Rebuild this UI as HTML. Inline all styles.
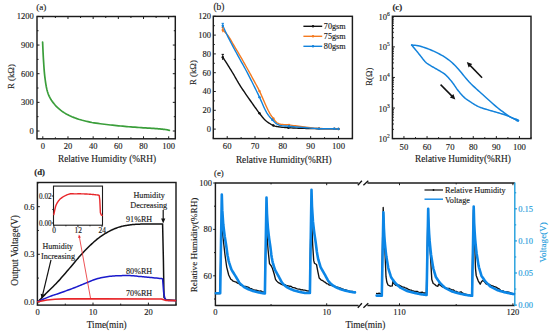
<!DOCTYPE html>
<html><head><meta charset="utf-8"><style>
html,body{margin:0;padding:0;background:#fff;overflow:hidden;width:550px;height:331px;}
svg{display:block;}
text{font-family:"Liberation Serif",serif;paint-order:stroke;stroke-width:0.14px;stroke-linejoin:round;}
</style></head><body>
<svg width="550" height="331" viewBox="0 0 550 331">
<rect width="550" height="331" fill="#fff"/>
<rect x="37.00" y="16.50" width="138.30" height="122.30" fill="none" stroke="#1c1c1c" stroke-width="1.45"/>
<line x1="42.80" y1="138.80" x2="42.80" y2="136.30" stroke="#1c1c1c" stroke-width="1.0" />
<line x1="42.80" y1="16.50" x2="42.80" y2="19.00" stroke="#1c1c1c" stroke-width="1.0" />
<line x1="55.39" y1="138.80" x2="55.39" y2="137.30" stroke="#1c1c1c" stroke-width="1.0" />
<line x1="55.39" y1="16.50" x2="55.39" y2="18.00" stroke="#1c1c1c" stroke-width="1.0" />
<line x1="67.98" y1="138.80" x2="67.98" y2="136.30" stroke="#1c1c1c" stroke-width="1.0" />
<line x1="67.98" y1="16.50" x2="67.98" y2="19.00" stroke="#1c1c1c" stroke-width="1.0" />
<line x1="80.57" y1="138.80" x2="80.57" y2="137.30" stroke="#1c1c1c" stroke-width="1.0" />
<line x1="80.57" y1="16.50" x2="80.57" y2="18.00" stroke="#1c1c1c" stroke-width="1.0" />
<line x1="93.16" y1="138.80" x2="93.16" y2="136.30" stroke="#1c1c1c" stroke-width="1.0" />
<line x1="93.16" y1="16.50" x2="93.16" y2="19.00" stroke="#1c1c1c" stroke-width="1.0" />
<line x1="105.75" y1="138.80" x2="105.75" y2="137.30" stroke="#1c1c1c" stroke-width="1.0" />
<line x1="105.75" y1="16.50" x2="105.75" y2="18.00" stroke="#1c1c1c" stroke-width="1.0" />
<line x1="118.34" y1="138.80" x2="118.34" y2="136.30" stroke="#1c1c1c" stroke-width="1.0" />
<line x1="118.34" y1="16.50" x2="118.34" y2="19.00" stroke="#1c1c1c" stroke-width="1.0" />
<line x1="130.93" y1="138.80" x2="130.93" y2="137.30" stroke="#1c1c1c" stroke-width="1.0" />
<line x1="130.93" y1="16.50" x2="130.93" y2="18.00" stroke="#1c1c1c" stroke-width="1.0" />
<line x1="143.52" y1="138.80" x2="143.52" y2="136.30" stroke="#1c1c1c" stroke-width="1.0" />
<line x1="143.52" y1="16.50" x2="143.52" y2="19.00" stroke="#1c1c1c" stroke-width="1.0" />
<line x1="156.11" y1="138.80" x2="156.11" y2="137.30" stroke="#1c1c1c" stroke-width="1.0" />
<line x1="156.11" y1="16.50" x2="156.11" y2="18.00" stroke="#1c1c1c" stroke-width="1.0" />
<line x1="168.70" y1="138.80" x2="168.70" y2="136.30" stroke="#1c1c1c" stroke-width="1.0" />
<line x1="168.70" y1="16.50" x2="168.70" y2="19.00" stroke="#1c1c1c" stroke-width="1.0" />
<line x1="37.00" y1="131.00" x2="39.50" y2="131.00" stroke="#1c1c1c" stroke-width="1.0" />
<line x1="175.30" y1="131.00" x2="172.80" y2="131.00" stroke="#1c1c1c" stroke-width="1.0" />
<line x1="37.00" y1="116.67" x2="38.50" y2="116.67" stroke="#1c1c1c" stroke-width="1.0" />
<line x1="175.30" y1="116.67" x2="173.80" y2="116.67" stroke="#1c1c1c" stroke-width="1.0" />
<line x1="37.00" y1="102.35" x2="39.50" y2="102.35" stroke="#1c1c1c" stroke-width="1.0" />
<line x1="175.30" y1="102.35" x2="172.80" y2="102.35" stroke="#1c1c1c" stroke-width="1.0" />
<line x1="37.00" y1="88.03" x2="38.50" y2="88.03" stroke="#1c1c1c" stroke-width="1.0" />
<line x1="175.30" y1="88.03" x2="173.80" y2="88.03" stroke="#1c1c1c" stroke-width="1.0" />
<line x1="37.00" y1="73.70" x2="39.50" y2="73.70" stroke="#1c1c1c" stroke-width="1.0" />
<line x1="175.30" y1="73.70" x2="172.80" y2="73.70" stroke="#1c1c1c" stroke-width="1.0" />
<line x1="37.00" y1="59.38" x2="38.50" y2="59.38" stroke="#1c1c1c" stroke-width="1.0" />
<line x1="175.30" y1="59.38" x2="173.80" y2="59.38" stroke="#1c1c1c" stroke-width="1.0" />
<line x1="37.00" y1="45.05" x2="39.50" y2="45.05" stroke="#1c1c1c" stroke-width="1.0" />
<line x1="175.30" y1="45.05" x2="172.80" y2="45.05" stroke="#1c1c1c" stroke-width="1.0" />
<line x1="37.00" y1="30.72" x2="38.50" y2="30.72" stroke="#1c1c1c" stroke-width="1.0" />
<line x1="175.30" y1="30.72" x2="173.80" y2="30.72" stroke="#1c1c1c" stroke-width="1.0" />
<line x1="37.00" y1="16.40" x2="39.50" y2="16.40" stroke="#1c1c1c" stroke-width="1.0" />
<line x1="175.30" y1="16.40" x2="172.80" y2="16.40" stroke="#1c1c1c" stroke-width="1.0" />
<text x="42.80" y="149.20" font-size="8.5" text-anchor="middle" fill="#222" stroke="#222" >0</text>
<text x="67.98" y="149.20" font-size="8.5" text-anchor="middle" fill="#222" stroke="#222" >20</text>
<text x="93.16" y="149.20" font-size="8.5" text-anchor="middle" fill="#222" stroke="#222" >40</text>
<text x="118.34" y="149.20" font-size="8.5" text-anchor="middle" fill="#222" stroke="#222" >60</text>
<text x="143.52" y="149.20" font-size="8.5" text-anchor="middle" fill="#222" stroke="#222" >80</text>
<text x="168.70" y="149.20" font-size="8.5" text-anchor="middle" fill="#222" stroke="#222" >100</text>
<text x="33.80" y="133.90" font-size="8.5" text-anchor="end" fill="#222" stroke="#222" >0</text>
<text x="33.80" y="105.25" font-size="8.5" text-anchor="end" fill="#222" stroke="#222" >300</text>
<text x="33.80" y="76.60" font-size="8.5" text-anchor="end" fill="#222" stroke="#222" >600</text>
<text x="33.80" y="47.95" font-size="8.5" text-anchor="end" fill="#222" stroke="#222" >900</text>
<text x="33.80" y="19.30" font-size="8.5" text-anchor="end" fill="#222" stroke="#222" >1200</text>
<text x="107.00" y="162.30" font-size="9.3" text-anchor="middle" fill="#222" stroke="#222" >Relative Humidity (%RH)</text>
<text x="13.90" y="76.60" font-size="8.8" text-anchor="middle" fill="#222" stroke="#222" transform="rotate(-90 13.9 76.6)">R (kΩ)</text>
<text x="36.20" y="10.30" font-size="9.2" text-anchor="start" fill="#222" stroke="#222" >(a)</text>
<path d="M42.60,42.00 L42.67,43.40 L42.75,45.25 L42.85,47.46 L42.96,49.92 L43.08,52.52 L43.21,55.15 L43.35,57.71 L43.50,60.10 L43.65,62.38 L43.80,64.70 L43.95,67.02 L44.12,69.34 L44.30,71.63 L44.51,73.89 L44.74,76.08 L45.00,78.20 L45.28,80.26 L45.57,82.29 L45.88,84.28 L46.21,86.23 L46.58,88.11 L47.00,89.92 L47.47,91.65 L48.00,93.30 L48.59,94.85 L49.24,96.30 L49.93,97.68 L50.67,98.98 L51.46,100.23 L52.30,101.44 L53.18,102.63 L54.10,103.80 L55.07,104.95 L56.07,106.06 L57.13,107.14 L58.23,108.18 L59.37,109.19 L60.56,110.16 L61.81,111.10 L63.10,112.00 L64.45,112.87 L65.84,113.70 L67.29,114.49 L68.79,115.26 L70.33,115.99 L71.91,116.69 L73.54,117.36 L75.20,118.00 L76.91,118.62 L78.67,119.20 L80.48,119.75 L82.33,120.28 L84.21,120.77 L86.12,121.24 L88.05,121.68 L90.00,122.10 L91.97,122.49 L93.99,122.84 L96.04,123.16 L98.11,123.45 L100.19,123.73 L102.27,123.99 L104.34,124.25 L106.40,124.50 L108.44,124.75 L110.48,124.98 L112.52,125.21 L114.55,125.42 L116.58,125.62 L118.62,125.82 L120.66,126.01 L122.70,126.20 L124.75,126.38 L126.79,126.56 L128.84,126.73 L130.89,126.89 L132.95,127.04 L135.00,127.20 L137.05,127.35 L139.10,127.50 L141.20,127.65 L143.35,127.79 L145.54,127.94 L147.71,128.07 L149.83,128.21 L151.86,128.34 L153.77,128.47 L155.50,128.60 L157.08,128.72 L158.55,128.84 L159.91,128.95 L161.17,129.06 L162.33,129.17 L163.41,129.28 L164.39,129.39 L165.30,129.50 L166.11,129.62 L166.82,129.75 L167.44,129.88 L167.96,130.01 L168.41,130.13 L168.80,130.24 L169.12,130.33 L169.40,130.40" fill="none" stroke="#3a9e3a" stroke-width="1.7" stroke-linejoin="round" stroke-linecap="round" />
<rect x="213.30" y="16.30" width="139.10" height="122.30" fill="none" stroke="#1c1c1c" stroke-width="1.45"/>
<line x1="213.30" y1="138.60" x2="213.30" y2="137.10" stroke="#1c1c1c" stroke-width="1.0" />
<line x1="227.21" y1="138.60" x2="227.21" y2="136.10" stroke="#1c1c1c" stroke-width="1.0" />
<line x1="241.12" y1="138.60" x2="241.12" y2="137.10" stroke="#1c1c1c" stroke-width="1.0" />
<line x1="255.03" y1="138.60" x2="255.03" y2="136.10" stroke="#1c1c1c" stroke-width="1.0" />
<line x1="268.94" y1="138.60" x2="268.94" y2="137.10" stroke="#1c1c1c" stroke-width="1.0" />
<line x1="282.85" y1="138.60" x2="282.85" y2="136.10" stroke="#1c1c1c" stroke-width="1.0" />
<line x1="296.76" y1="138.60" x2="296.76" y2="137.10" stroke="#1c1c1c" stroke-width="1.0" />
<line x1="310.67" y1="138.60" x2="310.67" y2="136.10" stroke="#1c1c1c" stroke-width="1.0" />
<line x1="324.58" y1="138.60" x2="324.58" y2="137.10" stroke="#1c1c1c" stroke-width="1.0" />
<line x1="338.49" y1="138.60" x2="338.49" y2="136.10" stroke="#1c1c1c" stroke-width="1.0" />
<line x1="352.40" y1="138.60" x2="352.40" y2="137.10" stroke="#1c1c1c" stroke-width="1.0" />
<line x1="213.30" y1="138.50" x2="214.80" y2="138.50" stroke="#1c1c1c" stroke-width="1.0" />
<line x1="213.30" y1="129.10" x2="215.80" y2="129.10" stroke="#1c1c1c" stroke-width="1.0" />
<line x1="213.30" y1="119.70" x2="214.80" y2="119.70" stroke="#1c1c1c" stroke-width="1.0" />
<line x1="213.30" y1="110.30" x2="215.80" y2="110.30" stroke="#1c1c1c" stroke-width="1.0" />
<line x1="213.30" y1="100.90" x2="214.80" y2="100.90" stroke="#1c1c1c" stroke-width="1.0" />
<line x1="213.30" y1="91.50" x2="215.80" y2="91.50" stroke="#1c1c1c" stroke-width="1.0" />
<line x1="213.30" y1="82.10" x2="214.80" y2="82.10" stroke="#1c1c1c" stroke-width="1.0" />
<line x1="213.30" y1="72.70" x2="215.80" y2="72.70" stroke="#1c1c1c" stroke-width="1.0" />
<line x1="213.30" y1="63.30" x2="214.80" y2="63.30" stroke="#1c1c1c" stroke-width="1.0" />
<line x1="213.30" y1="53.90" x2="215.80" y2="53.90" stroke="#1c1c1c" stroke-width="1.0" />
<line x1="213.30" y1="44.50" x2="214.80" y2="44.50" stroke="#1c1c1c" stroke-width="1.0" />
<line x1="213.30" y1="35.10" x2="215.80" y2="35.10" stroke="#1c1c1c" stroke-width="1.0" />
<line x1="213.30" y1="25.70" x2="214.80" y2="25.70" stroke="#1c1c1c" stroke-width="1.0" />
<line x1="213.30" y1="16.30" x2="215.80" y2="16.30" stroke="#1c1c1c" stroke-width="1.0" />
<text x="227.21" y="149.40" font-size="8.7" text-anchor="middle" fill="#222" stroke="#222" >60</text>
<text x="255.03" y="149.40" font-size="8.7" text-anchor="middle" fill="#222" stroke="#222" >70</text>
<text x="282.85" y="149.40" font-size="8.7" text-anchor="middle" fill="#222" stroke="#222" >80</text>
<text x="310.67" y="149.40" font-size="8.7" text-anchor="middle" fill="#222" stroke="#222" >90</text>
<text x="338.49" y="149.40" font-size="8.7" text-anchor="middle" fill="#222" stroke="#222" >100</text>
<text x="210.90" y="132.00" font-size="8.5" text-anchor="end" fill="#222" stroke="#222" >0</text>
<text x="210.90" y="113.20" font-size="8.5" text-anchor="end" fill="#222" stroke="#222" >20</text>
<text x="210.90" y="94.40" font-size="8.5" text-anchor="end" fill="#222" stroke="#222" >40</text>
<text x="210.90" y="75.60" font-size="8.5" text-anchor="end" fill="#222" stroke="#222" >60</text>
<text x="210.90" y="56.80" font-size="8.5" text-anchor="end" fill="#222" stroke="#222" >80</text>
<text x="210.90" y="38.00" font-size="8.5" text-anchor="end" fill="#222" stroke="#222" >100</text>
<text x="210.90" y="19.20" font-size="8.5" text-anchor="end" fill="#222" stroke="#222" >120</text>
<text x="283.80" y="163.40" font-size="9.3" text-anchor="middle" fill="#222" stroke="#222" >Relative Humidity(%RH)</text>
<text x="196.20" y="72.60" font-size="8.8" text-anchor="middle" fill="#222" stroke="#222" transform="rotate(-90 196.2 72.6)">R (kΩ)</text>
<text x="213.40" y="9.60" font-size="9.4" text-anchor="start" fill="#222" stroke="#222" >(b)</text>
<path d="M222.76,57.19 L223.19,57.85 L223.76,58.73 L224.44,59.78 L225.19,60.94 L225.99,62.18 L226.80,63.44 L227.59,64.68 L228.32,65.84 L229.01,66.94 L229.69,68.03 L230.36,69.12 L231.04,70.23 L231.72,71.35 L232.42,72.51 L233.14,73.71 L233.89,74.96 L234.64,76.24 L235.39,77.55 L236.14,78.88 L236.91,80.25 L237.73,81.67 L238.59,83.15 L239.54,84.70 L240.56,86.33 L241.71,88.09 L242.98,89.99 L244.34,91.98 L245.75,94.03 L247.16,96.07 L248.56,98.07 L249.89,99.98 L251.14,101.75 L252.30,103.40 L253.42,105.00 L254.51,106.55 L255.57,108.03 L256.59,109.44 L257.58,110.80 L258.55,112.09 L259.48,113.31 L260.37,114.45 L261.19,115.52 L261.97,116.52 L262.73,117.45 L263.48,118.33 L264.25,119.17 L265.04,119.96 L265.88,120.73 L266.77,121.47 L267.70,122.17 L268.65,122.83 L269.62,123.45 L270.59,124.02 L271.55,124.54 L272.48,125.01 L273.39,125.43 L274.25,125.79 L275.08,126.07 L275.88,126.30 L276.68,126.49 L277.48,126.64 L278.30,126.77 L279.16,126.90 L280.07,127.03 L280.99,127.16 L281.91,127.26 L282.83,127.35 L283.79,127.42 L284.80,127.48 L285.90,127.55 L287.09,127.61 L288.41,127.69 L289.87,127.77 L291.44,127.86 L293.10,127.95 L294.85,128.04 L296.66,128.12 L298.52,128.20 L300.41,128.28 L302.32,128.35 L304.29,128.41 L306.33,128.47 L308.44,128.52 L310.58,128.57 L312.74,128.61 L314.88,128.65 L316.98,128.69 L319.02,128.72 L321.07,128.76 L323.20,128.79 L325.34,128.81 L327.45,128.84 L329.46,128.86 L331.31,128.88 L332.95,128.89 L334.32,128.91 L335.40,128.93 L336.24,128.94 L336.88,128.96 L337.36,128.97 L337.72,128.98 L338.00,128.99 L338.24,129.00 L338.49,129.01" fill="none" stroke="#111" stroke-width="1.4" stroke-linejoin="round" stroke-linecap="round" />
<circle cx="222.76" cy="57.19" r="1.2" fill="#111"/>
<circle cx="259.48" cy="113.31" r="1.2" fill="#111"/>
<circle cx="273.39" cy="125.43" r="1.2" fill="#111"/>
<circle cx="288.41" cy="127.69" r="1.2" fill="#111"/>
<circle cx="319.02" cy="128.72" r="1.2" fill="#111"/>
<circle cx="334.32" cy="128.91" r="1.2" fill="#111"/>
<circle cx="338.49" cy="129.01" r="1.2" fill="#111"/>
<path d="M222.76,29.93 L223.16,30.35 L223.70,30.89 L224.33,31.52 L225.04,32.24 L225.79,33.03 L226.56,33.89 L227.32,34.81 L228.04,35.76 L228.74,36.77 L229.43,37.85 L230.13,38.99 L230.84,40.20 L231.57,41.45 L232.32,42.75 L233.09,44.08 L233.89,45.44 L234.73,46.85 L235.60,48.31 L236.51,49.83 L237.43,51.39 L238.37,52.96 L239.30,54.54 L240.22,56.11 L241.12,57.66 L242.01,59.21 L242.90,60.77 L243.80,62.34 L244.68,63.91 L245.56,65.47 L246.42,67.01 L247.26,68.51 L248.08,69.97 L248.86,71.39 L249.62,72.77 L250.36,74.12 L251.08,75.45 L251.80,76.76 L252.50,78.07 L253.21,79.37 L253.92,80.69 L254.61,81.95 L255.26,83.12 L255.89,84.24 L256.53,85.38 L257.18,86.59 L257.88,87.91 L258.64,89.41 L259.48,91.12 L260.44,93.17 L261.50,95.54 L262.64,98.12 L263.81,100.79 L264.98,103.46 L266.11,105.99 L267.17,108.27 L268.11,110.21 L268.93,111.79 L269.66,113.13 L270.33,114.27 L270.96,115.26 L271.56,116.15 L272.15,116.96 L272.75,117.76 L273.39,118.57 L274.02,119.39 L274.60,120.16 L275.15,120.88 L275.72,121.55 L276.33,122.16 L277.00,122.72 L277.78,123.22 L278.68,123.65 L279.70,123.99 L280.83,124.23 L282.04,124.40 L283.32,124.52 L284.67,124.61 L286.06,124.70 L287.50,124.81 L288.97,124.96 L290.47,125.16 L292.02,125.36 L293.61,125.57 L295.25,125.78 L296.94,126.00 L298.68,126.22 L300.47,126.44 L302.32,126.66 L304.26,126.88 L306.29,127.13 L308.40,127.38 L310.55,127.63 L312.71,127.87 L314.86,128.09 L316.97,128.29 L319.02,128.44 L321.07,128.56 L323.20,128.64 L325.34,128.70 L327.45,128.74 L329.46,128.76 L331.31,128.78 L332.95,128.79 L334.32,128.82 L335.40,128.84 L336.24,128.86 L336.88,128.88 L337.36,128.89 L337.72,128.90 L338.00,128.90 L338.24,128.91 L338.49,128.91" fill="none" stroke="#f47a20" stroke-width="1.4" stroke-linejoin="round" stroke-linecap="round" />
<circle cx="222.76" cy="29.93" r="1.2" fill="#f47a20"/>
<circle cx="259.48" cy="91.12" r="1.2" fill="#f47a20"/>
<circle cx="273.39" cy="118.57" r="1.2" fill="#f47a20"/>
<circle cx="288.97" cy="124.96" r="1.2" fill="#f47a20"/>
<circle cx="319.02" cy="128.44" r="1.2" fill="#f47a20"/>
<circle cx="334.32" cy="128.82" r="1.2" fill="#f47a20"/>
<circle cx="338.49" cy="128.91" r="1.2" fill="#f47a20"/>
<path d="M222.76,25.70 L223.09,26.43 L223.53,27.39 L224.05,28.54 L224.64,29.82 L225.26,31.18 L225.91,32.58 L226.57,33.97 L227.21,35.29 L227.84,36.57 L228.49,37.86 L229.15,39.16 L229.84,40.49 L230.54,41.84 L231.26,43.22 L232.00,44.64 L232.77,46.10 L233.58,47.62 L234.43,49.22 L235.32,50.86 L236.22,52.53 L237.12,54.19 L238.02,55.84 L238.89,57.44 L239.73,58.98 L240.53,60.42 L241.30,61.80 L242.05,63.13 L242.79,64.43 L243.53,65.75 L244.28,67.09 L245.05,68.49 L245.85,69.97 L246.68,71.54 L247.54,73.18 L248.41,74.86 L249.29,76.58 L250.18,78.32 L251.07,80.06 L251.94,81.80 L252.80,83.51 L253.65,85.20 L254.49,86.89 L255.33,88.57 L256.16,90.26 L256.99,91.96 L257.82,93.66 L258.65,95.39 L259.48,97.14 L260.32,98.96 L261.16,100.87 L262.01,102.82 L262.85,104.78 L263.69,106.69 L264.53,108.51 L265.35,110.20 L266.16,111.71 L266.95,113.04 L267.72,114.23 L268.48,115.31 L269.24,116.29 L269.99,117.19 L270.74,118.05 L271.50,118.88 L272.28,119.70 L273.04,120.52 L273.77,121.30 L274.49,122.05 L275.22,122.75 L275.98,123.40 L276.80,123.99 L277.69,124.51 L278.68,124.96 L279.76,125.32 L280.90,125.58 L282.12,125.75 L283.39,125.88 L284.72,125.97 L286.09,126.06 L287.51,126.15 L288.97,126.28 L290.47,126.43 L292.02,126.57 L293.61,126.71 L295.25,126.85 L296.94,126.99 L298.68,127.12 L300.47,127.26 L302.32,127.41 L304.26,127.56 L306.29,127.73 L308.40,127.90 L310.55,128.08 L312.71,128.24 L314.86,128.40 L316.97,128.53 L319.02,128.63 L321.07,128.70 L323.20,128.75 L325.34,128.78 L327.45,128.79 L329.46,128.80 L331.31,128.80 L332.95,128.81 L334.32,128.82 L335.40,128.83 L336.24,128.85 L336.88,128.86 L337.36,128.88 L337.72,128.89 L338.00,128.90 L338.24,128.91 L338.49,128.91" fill="none" stroke="#1282db" stroke-width="1.4" stroke-linejoin="round" stroke-linecap="round" />
<circle cx="222.76" cy="25.70" r="1.2" fill="#1282db"/>
<circle cx="259.48" cy="97.14" r="1.2" fill="#1282db"/>
<circle cx="272.28" cy="119.70" r="1.2" fill="#1282db"/>
<circle cx="288.97" cy="126.28" r="1.2" fill="#1282db"/>
<circle cx="319.02" cy="128.63" r="1.2" fill="#1282db"/>
<circle cx="334.32" cy="128.82" r="1.2" fill="#1282db"/>
<circle cx="338.49" cy="128.91" r="1.2" fill="#1282db"/>
<line x1="222.76" y1="60.01" x2="222.76" y2="54.37" stroke="#111" stroke-width="1" />
<line x1="221.56" y1="54.37" x2="223.96" y2="54.37" stroke="#111" stroke-width="1" />
<line x1="222.76" y1="32.28" x2="222.76" y2="27.58" stroke="#f47a20" stroke-width="1" />
<line x1="221.56" y1="27.58" x2="223.96" y2="27.58" stroke="#f47a20" stroke-width="1" />
<line x1="222.76" y1="28.05" x2="222.76" y2="23.35" stroke="#1282db" stroke-width="1" />
<line x1="221.56" y1="23.35" x2="223.96" y2="23.35" stroke="#1282db" stroke-width="1" />
<line x1="303.40" y1="26.30" x2="322.20" y2="26.30" stroke="#111" stroke-width="1.4" />
<circle cx="313" cy="26.3" r="1.2" fill="#111"/>
<text x="323.80" y="29.20" font-size="8.2" text-anchor="start" fill="#222" stroke="#222" >70gsm</text>
<line x1="303.40" y1="36.30" x2="322.20" y2="36.30" stroke="#f47a20" stroke-width="1.4" />
<circle cx="313" cy="36.3" r="1.2" fill="#f47a20"/>
<text x="323.80" y="39.20" font-size="8.2" text-anchor="start" fill="#222" stroke="#222" >75gsm</text>
<line x1="303.40" y1="46.30" x2="322.20" y2="46.30" stroke="#1282db" stroke-width="1.4" />
<circle cx="313" cy="46.3" r="1.2" fill="#1282db"/>
<text x="323.80" y="49.20" font-size="8.2" text-anchor="start" fill="#222" stroke="#222" >80gsm</text>
<rect x="392.40" y="16.30" width="138.60" height="122.30" fill="none" stroke="#1c1c1c" stroke-width="1.45"/>
<line x1="403.95" y1="138.60" x2="403.95" y2="136.10" stroke="#1c1c1c" stroke-width="1.0" />
<line x1="415.50" y1="138.60" x2="415.50" y2="137.10" stroke="#1c1c1c" stroke-width="1.0" />
<line x1="427.05" y1="138.60" x2="427.05" y2="136.10" stroke="#1c1c1c" stroke-width="1.0" />
<line x1="438.60" y1="138.60" x2="438.60" y2="137.10" stroke="#1c1c1c" stroke-width="1.0" />
<line x1="450.15" y1="138.60" x2="450.15" y2="136.10" stroke="#1c1c1c" stroke-width="1.0" />
<line x1="461.70" y1="138.60" x2="461.70" y2="137.10" stroke="#1c1c1c" stroke-width="1.0" />
<line x1="473.25" y1="138.60" x2="473.25" y2="136.10" stroke="#1c1c1c" stroke-width="1.0" />
<line x1="484.80" y1="138.60" x2="484.80" y2="137.10" stroke="#1c1c1c" stroke-width="1.0" />
<line x1="496.35" y1="138.60" x2="496.35" y2="136.10" stroke="#1c1c1c" stroke-width="1.0" />
<line x1="507.90" y1="138.60" x2="507.90" y2="137.10" stroke="#1c1c1c" stroke-width="1.0" />
<line x1="519.45" y1="138.60" x2="519.45" y2="136.10" stroke="#1c1c1c" stroke-width="1.0" />
<line x1="531.00" y1="138.60" x2="531.00" y2="137.10" stroke="#1c1c1c" stroke-width="1.0" />
<line x1="392.40" y1="138.60" x2="394.90" y2="138.60" stroke="#1c1c1c" stroke-width="1.0" />
<line x1="392.40" y1="129.40" x2="393.90" y2="129.40" stroke="#1c1c1c" stroke-width="1.0" />
<line x1="392.40" y1="124.01" x2="393.90" y2="124.01" stroke="#1c1c1c" stroke-width="1.0" />
<line x1="392.40" y1="120.19" x2="393.90" y2="120.19" stroke="#1c1c1c" stroke-width="1.0" />
<line x1="392.40" y1="117.23" x2="393.90" y2="117.23" stroke="#1c1c1c" stroke-width="1.0" />
<line x1="392.40" y1="114.81" x2="393.90" y2="114.81" stroke="#1c1c1c" stroke-width="1.0" />
<line x1="392.40" y1="112.76" x2="393.90" y2="112.76" stroke="#1c1c1c" stroke-width="1.0" />
<line x1="392.40" y1="110.99" x2="393.90" y2="110.99" stroke="#1c1c1c" stroke-width="1.0" />
<line x1="392.40" y1="109.42" x2="393.90" y2="109.42" stroke="#1c1c1c" stroke-width="1.0" />
<line x1="392.40" y1="108.02" x2="394.90" y2="108.02" stroke="#1c1c1c" stroke-width="1.0" />
<line x1="392.40" y1="98.82" x2="393.90" y2="98.82" stroke="#1c1c1c" stroke-width="1.0" />
<line x1="392.40" y1="93.44" x2="393.90" y2="93.44" stroke="#1c1c1c" stroke-width="1.0" />
<line x1="392.40" y1="89.62" x2="393.90" y2="89.62" stroke="#1c1c1c" stroke-width="1.0" />
<line x1="392.40" y1="86.65" x2="393.90" y2="86.65" stroke="#1c1c1c" stroke-width="1.0" />
<line x1="392.40" y1="84.23" x2="393.90" y2="84.23" stroke="#1c1c1c" stroke-width="1.0" />
<line x1="392.40" y1="82.19" x2="393.90" y2="82.19" stroke="#1c1c1c" stroke-width="1.0" />
<line x1="392.40" y1="80.41" x2="393.90" y2="80.41" stroke="#1c1c1c" stroke-width="1.0" />
<line x1="392.40" y1="78.85" x2="393.90" y2="78.85" stroke="#1c1c1c" stroke-width="1.0" />
<line x1="392.40" y1="77.45" x2="394.90" y2="77.45" stroke="#1c1c1c" stroke-width="1.0" />
<line x1="392.40" y1="68.25" x2="393.90" y2="68.25" stroke="#1c1c1c" stroke-width="1.0" />
<line x1="392.40" y1="62.86" x2="393.90" y2="62.86" stroke="#1c1c1c" stroke-width="1.0" />
<line x1="392.40" y1="59.04" x2="393.90" y2="59.04" stroke="#1c1c1c" stroke-width="1.0" />
<line x1="392.40" y1="56.08" x2="393.90" y2="56.08" stroke="#1c1c1c" stroke-width="1.0" />
<line x1="392.40" y1="53.66" x2="393.90" y2="53.66" stroke="#1c1c1c" stroke-width="1.0" />
<line x1="392.40" y1="51.61" x2="393.90" y2="51.61" stroke="#1c1c1c" stroke-width="1.0" />
<line x1="392.40" y1="49.84" x2="393.90" y2="49.84" stroke="#1c1c1c" stroke-width="1.0" />
<line x1="392.40" y1="48.27" x2="393.90" y2="48.27" stroke="#1c1c1c" stroke-width="1.0" />
<line x1="392.40" y1="46.88" x2="394.90" y2="46.88" stroke="#1c1c1c" stroke-width="1.0" />
<line x1="392.40" y1="37.67" x2="393.90" y2="37.67" stroke="#1c1c1c" stroke-width="1.0" />
<line x1="392.40" y1="32.29" x2="393.90" y2="32.29" stroke="#1c1c1c" stroke-width="1.0" />
<line x1="392.40" y1="28.47" x2="393.90" y2="28.47" stroke="#1c1c1c" stroke-width="1.0" />
<line x1="392.40" y1="25.50" x2="393.90" y2="25.50" stroke="#1c1c1c" stroke-width="1.0" />
<line x1="392.40" y1="23.08" x2="393.90" y2="23.08" stroke="#1c1c1c" stroke-width="1.0" />
<line x1="392.40" y1="21.04" x2="393.90" y2="21.04" stroke="#1c1c1c" stroke-width="1.0" />
<line x1="392.40" y1="19.26" x2="393.90" y2="19.26" stroke="#1c1c1c" stroke-width="1.0" />
<line x1="392.40" y1="17.70" x2="393.90" y2="17.70" stroke="#1c1c1c" stroke-width="1.0" />
<text x="403.95" y="149.50" font-size="8.7" text-anchor="middle" fill="#222" stroke="#222" >50</text>
<text x="427.05" y="149.50" font-size="8.7" text-anchor="middle" fill="#222" stroke="#222" >60</text>
<text x="450.15" y="149.50" font-size="8.7" text-anchor="middle" fill="#222" stroke="#222" >70</text>
<text x="473.25" y="149.50" font-size="8.7" text-anchor="middle" fill="#222" stroke="#222" >80</text>
<text x="496.35" y="149.50" font-size="8.7" text-anchor="middle" fill="#222" stroke="#222" >90</text>
<text x="519.45" y="149.50" font-size="8.7" text-anchor="middle" fill="#222" stroke="#222" >100</text>
<text x="387.00" y="142.10" font-size="8.5" text-anchor="end" fill="#222" stroke="#222" >10</text>
<text x="387.00" y="138.20" font-size="5.5" text-anchor="start" fill="#222" stroke="#222" >2</text>
<text x="387.00" y="111.52" font-size="8.5" text-anchor="end" fill="#222" stroke="#222" >10</text>
<text x="387.00" y="107.62" font-size="5.5" text-anchor="start" fill="#222" stroke="#222" >3</text>
<text x="387.00" y="80.95" font-size="8.5" text-anchor="end" fill="#222" stroke="#222" >10</text>
<text x="387.00" y="77.05" font-size="5.5" text-anchor="start" fill="#222" stroke="#222" >4</text>
<text x="387.00" y="50.38" font-size="8.5" text-anchor="end" fill="#222" stroke="#222" >10</text>
<text x="387.00" y="46.48" font-size="5.5" text-anchor="start" fill="#222" stroke="#222" >5</text>
<text x="387.00" y="19.80" font-size="8.5" text-anchor="end" fill="#222" stroke="#222" >10</text>
<text x="387.00" y="15.90" font-size="5.5" text-anchor="start" fill="#222" stroke="#222" >6</text>
<text x="462.90" y="162.10" font-size="9.3" text-anchor="middle" fill="#222" stroke="#222" >Relative Humidity(%RH)</text>
<text x="372.40" y="76.70" font-size="8.7" text-anchor="middle" fill="#222" stroke="#222" transform="rotate(-90 372.4 76.7)">R(Ω)</text>
<text x="392.40" y="10.20" font-size="8.8" text-anchor="start" fill="#222" stroke="#222" font-weight="bold">(c)</text>
<path d="M411.60,45.00 L412.02,45.04 L412.58,45.09 L413.24,45.14 L413.98,45.21 L414.76,45.28 L415.56,45.37 L416.35,45.48 L417.10,45.60 L417.78,45.72 L418.42,45.83 L419.05,45.95 L419.69,46.09 L420.38,46.26 L421.16,46.47 L422.05,46.75 L423.10,47.10 L424.32,47.53 L425.70,48.02 L427.19,48.57 L428.77,49.16 L430.39,49.80 L432.03,50.47 L433.65,51.18 L435.20,51.90 L436.73,52.65 L438.28,53.43 L439.84,54.25 L441.39,55.09 L442.93,55.97 L444.44,56.89 L445.90,57.83 L447.30,58.80 L448.62,59.78 L449.86,60.76 L451.04,61.75 L452.20,62.79 L453.36,63.88 L454.54,65.05 L455.78,66.32 L457.10,67.70 L458.50,69.25 L459.97,70.97 L461.47,72.80 L463.01,74.71 L464.57,76.63 L466.13,78.52 L467.68,80.32 L469.20,82.00 L470.68,83.53 L472.14,84.97 L473.58,86.33 L475.02,87.66 L476.48,88.98 L477.99,90.32 L479.56,91.72 L481.20,93.20 L482.95,94.80 L484.81,96.50 L486.74,98.26 L488.70,100.04 L490.66,101.80 L492.59,103.51 L494.45,105.12 L496.20,106.60 L497.88,107.97 L499.55,109.29 L501.18,110.54 L502.76,111.72 L504.26,112.83 L505.69,113.85 L507.00,114.77 L508.20,115.60 L509.26,116.31 L510.18,116.89 L511.00,117.36 L511.74,117.76 L512.41,118.10 L513.05,118.41 L513.67,118.70 L514.30,119.00 L514.94,119.30 L515.58,119.56 L516.20,119.80 L516.78,120.01 L517.32,120.20 L517.79,120.35 L518.19,120.49 L518.50,120.60" fill="none" stroke="#1282db" stroke-width="1.5" stroke-linejoin="round" stroke-linecap="round" />
<path d="M411.60,45.00 L412.12,45.62 L412.81,46.45 L413.63,47.44 L414.54,48.53 L415.50,49.69 L416.48,50.87 L417.42,52.02 L418.30,53.10 L419.15,54.16 L420.01,55.28 L420.88,56.41 L421.75,57.54 L422.60,58.64 L423.41,59.66 L424.19,60.60 L424.90,61.40 L425.54,62.06 L426.10,62.59 L426.61,63.03 L427.09,63.40 L427.56,63.73 L428.06,64.06 L428.60,64.40 L429.20,64.80 L429.87,65.23 L430.58,65.67 L431.33,66.11 L432.09,66.54 L432.88,66.98 L433.66,67.42 L434.44,67.86 L435.20,68.30 L435.96,68.74 L436.73,69.18 L437.50,69.62 L438.28,70.06 L439.04,70.49 L439.78,70.93 L440.51,71.37 L441.20,71.80 L441.85,72.21 L442.45,72.57 L443.03,72.92 L443.59,73.28 L444.15,73.67 L444.73,74.10 L445.34,74.60 L446.00,75.20 L446.72,75.90 L447.48,76.70 L448.28,77.56 L449.09,78.48 L449.91,79.42 L450.71,80.37 L451.48,81.30 L452.20,82.20 L452.88,83.09 L453.53,83.99 L454.15,84.90 L454.76,85.80 L455.36,86.69 L455.94,87.56 L456.52,88.40 L457.10,89.20 L457.68,89.96 L458.24,90.70 L458.80,91.41 L459.36,92.09 L459.90,92.76 L460.44,93.39 L460.97,94.01 L461.50,94.60 L462.02,95.16 L462.52,95.70 L463.01,96.21 L463.49,96.69 L463.98,97.16 L464.47,97.62 L464.98,98.06 L465.50,98.50 L466.04,98.93 L466.58,99.33 L467.13,99.72 L467.69,100.09 L468.25,100.47 L468.83,100.84 L469.41,101.21 L470.00,101.60 L470.60,102.00 L471.22,102.41 L471.86,102.83 L472.49,103.25 L473.13,103.66 L473.77,104.06 L474.39,104.44 L475.00,104.80 L475.59,105.14 L476.18,105.45 L476.75,105.76 L477.32,106.05 L477.89,106.33 L478.46,106.60 L479.03,106.85 L479.60,107.10 L480.14,107.33 L480.64,107.52 L481.13,107.70 L481.62,107.87 L482.15,108.05 L482.73,108.24 L483.41,108.45 L484.20,108.70 L485.12,108.99 L486.16,109.30 L487.29,109.64 L488.48,109.99 L489.70,110.35 L490.93,110.71 L492.14,111.06 L493.30,111.40 L494.44,111.73 L495.61,112.07 L496.78,112.40 L497.94,112.74 L499.08,113.07 L500.18,113.39 L501.23,113.70 L502.20,114.00 L503.09,114.28 L503.90,114.55 L504.66,114.80 L505.37,115.05 L506.07,115.30 L506.76,115.55 L507.47,115.82 L508.20,116.10 L508.97,116.41 L509.76,116.73 L510.56,117.07 L511.36,117.41 L512.15,117.75 L512.91,118.09 L513.63,118.41 L514.30,118.70 L514.94,118.98 L515.58,119.27 L516.20,119.55 L516.78,119.81 L517.32,120.06 L517.79,120.28 L518.19,120.46 L518.50,120.60" fill="none" stroke="#1282db" stroke-width="1.5" stroke-linejoin="round" stroke-linecap="round" />
<ellipse cx="517" cy="120.2" rx="2.2" ry="1.3" fill="#1282db" transform="rotate(30 517 120.2)"/>
<line x1="440.60" y1="84.60" x2="452.00" y2="96.15" stroke="#111" stroke-width="1.5" />
<path d="M455.30,99.50 L449.87,97.55 L453.43,94.04 Z" fill="#111"/>
<line x1="482.10" y1="77.80" x2="470.07" y2="65.38" stroke="#111" stroke-width="1.5" />
<path d="M466.80,62.00 L472.21,64.00 L468.62,67.47 Z" fill="#111"/>
<rect x="37.40" y="182.50" width="138.60" height="122.60" fill="none" stroke="#1c1c1c" stroke-width="1.45"/>
<line x1="37.60" y1="305.10" x2="37.60" y2="302.60" stroke="#1c1c1c" stroke-width="1.0" />
<line x1="65.30" y1="305.10" x2="65.30" y2="303.60" stroke="#1c1c1c" stroke-width="1.0" />
<line x1="93.00" y1="305.10" x2="93.00" y2="302.60" stroke="#1c1c1c" stroke-width="1.0" />
<line x1="120.70" y1="305.10" x2="120.70" y2="303.60" stroke="#1c1c1c" stroke-width="1.0" />
<line x1="148.40" y1="305.10" x2="148.40" y2="302.60" stroke="#1c1c1c" stroke-width="1.0" />
<line x1="176.10" y1="305.10" x2="176.10" y2="303.60" stroke="#1c1c1c" stroke-width="1.0" />
<line x1="37.40" y1="301.90" x2="39.90" y2="301.90" stroke="#1c1c1c" stroke-width="1.0" />
<line x1="37.40" y1="278.09" x2="38.90" y2="278.09" stroke="#1c1c1c" stroke-width="1.0" />
<line x1="37.40" y1="254.29" x2="39.90" y2="254.29" stroke="#1c1c1c" stroke-width="1.0" />
<line x1="37.40" y1="230.48" x2="38.90" y2="230.48" stroke="#1c1c1c" stroke-width="1.0" />
<line x1="37.40" y1="206.68" x2="39.90" y2="206.68" stroke="#1c1c1c" stroke-width="1.0" />
<line x1="37.40" y1="182.88" x2="38.90" y2="182.88" stroke="#1c1c1c" stroke-width="1.0" />
<text x="37.60" y="314.60" font-size="8.5" text-anchor="middle" fill="#222" stroke="#222" >0</text>
<text x="93.00" y="314.60" font-size="8.5" text-anchor="middle" fill="#222" stroke="#222" >10</text>
<text x="148.40" y="314.60" font-size="8.5" text-anchor="middle" fill="#222" stroke="#222" >20</text>
<text x="34.60" y="304.80" font-size="8.5" text-anchor="end" fill="#222" stroke="#222" >0.0</text>
<text x="34.60" y="257.19" font-size="8.5" text-anchor="end" fill="#222" stroke="#222" >0.3</text>
<text x="34.60" y="209.58" font-size="8.5" text-anchor="end" fill="#222" stroke="#222" >0.6</text>
<text x="106.70" y="327.80" font-size="9.3" text-anchor="middle" fill="#222" stroke="#222" >Time(min)</text>
<text x="18.40" y="250.40" font-size="9.5" text-anchor="middle" fill="#222" stroke="#222" transform="rotate(-90 18.4 250.4)">Output Voltage(V)</text>
<text x="34.30" y="175.30" font-size="8.8" text-anchor="start" fill="#222" stroke="#222" font-weight="bold">(d)</text>
<path d="M38.20,301.50 L38.31,301.39 L38.42,301.28 L38.55,301.16 L38.72,300.99 L38.94,300.78 L39.23,300.49 L39.61,300.10 L40.10,299.60 L40.70,298.98 L41.39,298.26 L42.17,297.45 L43.02,296.57 L43.94,295.62 L44.92,294.61 L45.94,293.57 L47.00,292.50 L48.12,291.39 L49.32,290.22 L50.59,288.99 L51.91,287.73 L53.25,286.42 L54.61,285.07 L55.97,283.70 L57.30,282.30 L58.63,280.87 L59.96,279.39 L61.31,277.87 L62.66,276.32 L64.02,274.75 L65.38,273.17 L66.74,271.58 L68.10,270.00 L69.49,268.37 L70.93,266.67 L72.40,264.93 L73.85,263.19 L75.27,261.50 L76.62,259.89 L77.87,258.41 L79.00,257.10 L79.98,255.98 L80.84,255.01 L81.61,254.17 L82.31,253.42 L82.97,252.72 L83.61,252.04 L84.28,251.34 L85.00,250.60 L85.75,249.82 L86.50,249.05 L87.25,248.29 L87.99,247.53 L88.74,246.78 L89.49,246.05 L90.25,245.32 L91.00,244.60 L91.76,243.89 L92.52,243.18 L93.28,242.48 L94.05,241.79 L94.82,241.12 L95.58,240.46 L96.34,239.82 L97.10,239.20 L97.85,238.61 L98.60,238.03 L99.35,237.48 L100.10,236.94 L100.85,236.41 L101.60,235.90 L102.35,235.40 L103.10,234.90 L103.86,234.41 L104.62,233.93 L105.38,233.46 L106.15,233.01 L106.92,232.56 L107.68,232.13 L108.44,231.71 L109.20,231.30 L109.95,230.91 L110.71,230.53 L111.46,230.16 L112.21,229.80 L112.95,229.46 L113.70,229.13 L114.45,228.81 L115.20,228.50 L115.95,228.21 L116.70,227.93 L117.45,227.66 L118.19,227.40 L118.94,227.16 L119.69,226.92 L120.45,226.71 L121.20,226.50 L121.95,226.31 L122.69,226.14 L123.43,225.98 L124.17,225.83 L124.93,225.69 L125.70,225.56 L126.48,225.43 L127.30,225.30 L128.12,225.17 L128.95,225.04 L129.77,224.92 L130.62,224.80 L131.51,224.69 L132.44,224.58 L133.43,224.49 L134.50,224.40 L135.66,224.32 L136.90,224.26 L138.22,224.20 L139.57,224.15 L140.95,224.11 L142.33,224.07 L143.69,224.03 L145.00,224.00 L146.30,223.97 L147.61,223.95 L148.92,223.93 L150.22,223.92 L151.50,223.91 L152.73,223.90 L153.90,223.90 L155.00,223.90 L156.06,223.90 L157.10,223.91 L158.12,223.93 L159.07,223.94 L159.95,223.96 L160.73,223.98 L161.39,223.99 L161.90,224.00 L162.60,224.00 L163.40,260.00 L164.00,297.60 L166.00,299.80 L175.50,300.40" fill="none" stroke="#111" stroke-width="1.5" stroke-linejoin="round" stroke-linecap="round" />
<path d="M38.20,301.50 L38.41,301.40 L38.65,301.28 L38.93,301.14 L39.26,300.97 L39.66,300.78 L40.15,300.56 L40.72,300.30 L41.40,300.00 L42.21,299.65 L43.14,299.24 L44.17,298.80 L45.27,298.32 L46.44,297.83 L47.62,297.34 L48.82,296.85 L50.00,296.40 L51.17,295.97 L52.35,295.56 L53.56,295.15 L54.78,294.75 L56.03,294.34 L57.32,293.92 L58.64,293.47 L60.00,293.00 L61.41,292.50 L62.88,291.98 L64.38,291.44 L65.92,290.89 L67.47,290.32 L69.03,289.75 L70.57,289.18 L72.10,288.60 L73.61,288.02 L75.12,287.43 L76.64,286.83 L78.15,286.23 L79.66,285.62 L81.17,285.01 L82.69,284.40 L84.20,283.80 L85.71,283.18 L87.23,282.55 L88.74,281.90 L90.25,281.26 L91.76,280.63 L93.28,280.04 L94.79,279.49 L96.30,279.00 L97.82,278.57 L99.34,278.17 L100.86,277.82 L102.38,277.50 L103.90,277.21 L105.41,276.95 L106.91,276.72 L108.40,276.50 L109.88,276.31 L111.37,276.16 L112.86,276.04 L114.33,275.95 L115.79,275.87 L117.22,275.81 L118.63,275.75 L120.00,275.70 L121.33,275.65 L122.61,275.60 L123.87,275.57 L125.10,275.54 L126.32,275.53 L127.54,275.54 L128.76,275.56 L130.00,275.60 L131.25,275.66 L132.50,275.75 L133.75,275.86 L135.00,275.99 L136.25,276.12 L137.50,276.25 L138.75,276.38 L140.00,276.50 L141.24,276.61 L142.46,276.72 L143.67,276.82 L144.88,276.93 L146.11,277.04 L147.37,277.15 L148.66,277.27 L150.00,277.40 L151.48,277.54 L153.12,277.71 L154.85,277.88 L156.57,278.06 L158.23,278.22 L159.72,278.38 L160.97,278.51 L161.90,278.60 L162.60,279.00 L163.60,292.00 L165.00,299.10 L168.00,300.40 L175.50,300.60" fill="none" stroke="#1a1acc" stroke-width="1.5" stroke-linejoin="round" stroke-linecap="round" />
<path d="M38.00,301.80 L46.90,300.00 L55.00,299.20 L63.20,298.90 L100.00,298.90 L161.50,299.00 L163.00,299.60 L166.00,300.40 L175.50,300.60" fill="none" stroke="#e8262a" stroke-width="1.6" stroke-linejoin="round" stroke-linecap="round" />
<text x="139.10" y="221.80" font-size="8.1" text-anchor="middle" fill="#222" stroke="#222" >91%RH</text>
<text x="139.10" y="274.00" font-size="8.1" text-anchor="middle" fill="#222" stroke="#222" >80%RH</text>
<text x="139.10" y="296.00" font-size="8.1" text-anchor="middle" fill="#222" stroke="#222" >70%RH</text>
<text x="57.80" y="248.90" font-size="8.0" text-anchor="middle" fill="#222" stroke="#222" >Humidity</text>
<text x="58.00" y="259.00" font-size="8.2" text-anchor="middle" fill="#222" stroke="#222" >Increasing</text>
<text x="149.10" y="198.10" font-size="8.2" text-anchor="middle" fill="#222" stroke="#222" >Humidity</text>
<text x="148.70" y="207.60" font-size="8.2" text-anchor="middle" fill="#222" stroke="#222" >Decreasing</text>
<line x1="51.00" y1="259.80" x2="42.69" y2="294.63" stroke="#111" stroke-width="1.2" />
<path d="M41.60,299.20 L40.67,293.63 L44.95,294.65 Z" fill="#111"/>
<line x1="163.20" y1="210.00" x2="163.20" y2="218.90" stroke="#111" stroke-width="1.2" />
<path d="M163.20,223.40 L161.10,218.40 L165.30,218.40 Z" fill="#111"/>
<line x1="90.60" y1="298.60" x2="79.44" y2="237.35" stroke="#e8262a" stroke-width="0.8" />
<path d="M78.90,234.40 L80.90,237.59 L78.15,238.09 Z" fill="#e8262a"/>
<rect x="53.5" y="186.1" width="49.00" height="39.10" fill="#fff" stroke="#1c1c1c" stroke-width="1.1"/>
<line x1="53.90" y1="225.20" x2="53.90" y2="227.00" stroke="#1c1c1c" stroke-width="1" />
<line x1="65.92" y1="225.20" x2="65.92" y2="226.30" stroke="#1c1c1c" stroke-width="1" />
<line x1="77.95" y1="225.20" x2="77.95" y2="227.00" stroke="#1c1c1c" stroke-width="1" />
<line x1="89.97" y1="225.20" x2="89.97" y2="226.30" stroke="#1c1c1c" stroke-width="1" />
<line x1="102.00" y1="225.20" x2="102.00" y2="227.00" stroke="#1c1c1c" stroke-width="1" />
<line x1="53.50" y1="223.00" x2="51.70" y2="223.00" stroke="#1c1c1c" stroke-width="1" />
<line x1="53.50" y1="209.50" x2="52.40" y2="209.50" stroke="#1c1c1c" stroke-width="1" />
<line x1="53.50" y1="196.00" x2="51.70" y2="196.00" stroke="#1c1c1c" stroke-width="1" />
<text x="54.10" y="232.70" font-size="7.4" text-anchor="middle" fill="#222" stroke="#222" >0</text>
<text x="78.15" y="232.70" font-size="7.4" text-anchor="middle" fill="#222" stroke="#222" >12</text>
<text x="102.20" y="232.70" font-size="7.4" text-anchor="middle" fill="#222" stroke="#222" >24</text>
<text x="51.60" y="198.50" font-size="7.2" text-anchor="end" fill="#222" stroke="#222" >0.02</text>
<text x="51.60" y="225.50" font-size="7.2" text-anchor="end" fill="#222" stroke="#222" >0.00</text>
<path d="M53.80,214.60 L53.89,214.16 L54.01,213.57 L54.16,212.86 L54.32,212.07 L54.49,211.26 L54.66,210.45 L54.84,209.68 L55.00,209.00 L55.14,208.40 L55.27,207.83 L55.39,207.29 L55.52,206.76 L55.66,206.24 L55.83,205.71 L56.04,205.17 L56.30,204.60 L56.61,203.99 L56.94,203.36 L57.32,202.71 L57.72,202.05 L58.15,201.40 L58.61,200.77 L59.09,200.16 L59.60,199.60 L60.14,199.07 L60.71,198.57 L61.32,198.09 L61.94,197.62 L62.59,197.19 L63.25,196.77 L63.93,196.37 L64.60,196.00 L65.29,195.64 L66.02,195.30 L66.77,194.97 L67.53,194.67 L68.28,194.40 L69.02,194.16 L69.73,193.96 L70.40,193.80 L71.03,193.70 L71.63,193.67 L72.21,193.68 L72.78,193.72 L73.33,193.78 L73.88,193.84 L74.43,193.88 L75.00,193.90 L75.55,193.89 L76.06,193.88 L76.56,193.86 L77.07,193.84 L77.60,193.82 L78.19,193.80 L78.85,193.79 L79.60,193.80 L80.48,193.82 L81.49,193.84 L82.58,193.88 L83.72,193.92 L84.86,193.96 L85.96,194.01 L86.99,194.05 L87.90,194.10 L88.69,194.14 L89.40,194.19 L90.06,194.24 L90.66,194.29 L91.24,194.34 L91.81,194.39 L92.39,194.44 L93.00,194.50 L93.66,194.56 L94.35,194.63 L95.07,194.70 L95.77,194.78 L96.43,194.84 L97.02,194.91 L97.52,194.96 L97.90,195.00 L99.20,195.40 L99.80,200.00 L100.40,212.80 L101.20,214.80 L102.20,215.40" fill="none" stroke="#e8262a" stroke-width="1.4" stroke-linejoin="round" stroke-linecap="round" />
<line x1="215.40" y1="183.00" x2="358.60" y2="183.00" stroke="#1c1c1c" stroke-width="1.45" />
<line x1="367.40" y1="183.00" x2="514.80" y2="183.00" stroke="#1c1c1c" stroke-width="1.45" />
<line x1="215.40" y1="305.50" x2="358.60" y2="305.50" stroke="#1c1c1c" stroke-width="1.45" />
<line x1="367.40" y1="305.50" x2="514.80" y2="305.50" stroke="#1c1c1c" stroke-width="1.45" />
<line x1="215.40" y1="182.40" x2="215.40" y2="306.10" stroke="#1c1c1c" stroke-width="1.45" />
<line x1="514.80" y1="182.40" x2="514.80" y2="306.10" stroke="#1f9ddc" stroke-width="1.4" />
<line x1="357.80" y1="185.20" x2="361.90" y2="180.80" stroke="#111" stroke-width="1.3" />
<line x1="363.40" y1="185.20" x2="368.30" y2="180.80" stroke="#111" stroke-width="1.3" />
<line x1="357.80" y1="307.70" x2="361.90" y2="303.30" stroke="#111" stroke-width="1.3" />
<line x1="363.40" y1="307.70" x2="368.30" y2="303.30" stroke="#111" stroke-width="1.3" />
<line x1="271.05" y1="305.50" x2="271.05" y2="304.10" stroke="#1c1c1c" stroke-width="1.0" />
<line x1="271.05" y1="183.00" x2="271.05" y2="184.40" stroke="#1c1c1c" stroke-width="1.0" />
<line x1="326.70" y1="305.50" x2="326.70" y2="303.30" stroke="#1c1c1c" stroke-width="1.0" />
<line x1="326.70" y1="183.00" x2="326.70" y2="185.20" stroke="#1c1c1c" stroke-width="1.0" />
<line x1="399.50" y1="305.50" x2="399.50" y2="303.30" stroke="#1c1c1c" stroke-width="1.0" />
<line x1="399.50" y1="183.00" x2="399.50" y2="185.20" stroke="#1c1c1c" stroke-width="1.0" />
<line x1="456.20" y1="305.50" x2="456.20" y2="304.10" stroke="#1c1c1c" stroke-width="1.0" />
<line x1="456.20" y1="183.00" x2="456.20" y2="184.40" stroke="#1c1c1c" stroke-width="1.0" />
<line x1="512.90" y1="305.50" x2="512.90" y2="303.30" stroke="#1c1c1c" stroke-width="1.0" />
<line x1="512.90" y1="183.00" x2="512.90" y2="185.20" stroke="#1c1c1c" stroke-width="1.0" />
<line x1="215.40" y1="299.00" x2="214.00" y2="299.00" stroke="#1c1c1c" stroke-width="1.0" />
<line x1="215.40" y1="275.80" x2="213.20" y2="275.80" stroke="#1c1c1c" stroke-width="1.0" />
<line x1="215.40" y1="252.60" x2="214.00" y2="252.60" stroke="#1c1c1c" stroke-width="1.0" />
<line x1="215.40" y1="229.40" x2="213.20" y2="229.40" stroke="#1c1c1c" stroke-width="1.0" />
<line x1="215.40" y1="206.20" x2="214.00" y2="206.20" stroke="#1c1c1c" stroke-width="1.0" />
<line x1="215.40" y1="183.00" x2="213.20" y2="183.00" stroke="#1c1c1c" stroke-width="1.0" />
<line x1="514.80" y1="305.10" x2="517.00" y2="305.10" stroke="#1f9ddc" stroke-width="1.2" />
<line x1="514.80" y1="289.05" x2="516.20" y2="289.05" stroke="#1f9ddc" stroke-width="1.2" />
<line x1="514.80" y1="273.00" x2="517.00" y2="273.00" stroke="#1f9ddc" stroke-width="1.2" />
<line x1="514.80" y1="256.95" x2="516.20" y2="256.95" stroke="#1f9ddc" stroke-width="1.2" />
<line x1="514.80" y1="240.90" x2="517.00" y2="240.90" stroke="#1f9ddc" stroke-width="1.2" />
<line x1="514.80" y1="224.85" x2="516.20" y2="224.85" stroke="#1f9ddc" stroke-width="1.2" />
<line x1="514.80" y1="208.80" x2="517.00" y2="208.80" stroke="#1f9ddc" stroke-width="1.2" />
<line x1="514.80" y1="192.75" x2="516.20" y2="192.75" stroke="#1f9ddc" stroke-width="1.2" />
<text x="215.40" y="315.20" font-size="8.5" text-anchor="middle" fill="#222" stroke="#222" >0</text>
<text x="326.70" y="315.20" font-size="8.5" text-anchor="middle" fill="#222" stroke="#222" >10</text>
<text x="399.50" y="315.20" font-size="8.5" text-anchor="middle" fill="#222" stroke="#222" >110</text>
<text x="512.90" y="315.20" font-size="8.5" text-anchor="middle" fill="#222" stroke="#222" >120</text>
<text x="211.90" y="278.70" font-size="8.5" text-anchor="end" fill="#222" stroke="#222" >60</text>
<text x="211.90" y="232.30" font-size="8.5" text-anchor="end" fill="#222" stroke="#222" >80</text>
<text x="211.90" y="185.90" font-size="8.5" text-anchor="end" fill="#222" stroke="#222" >100</text>
<text x="518.20" y="308.00" font-size="8.5" text-anchor="start" fill="#1f9ddc" stroke="#1f9ddc" >0.00</text>
<text x="518.20" y="275.90" font-size="8.5" text-anchor="start" fill="#1f9ddc" stroke="#1f9ddc" >0.05</text>
<text x="518.20" y="243.80" font-size="8.5" text-anchor="start" fill="#1f9ddc" stroke="#1f9ddc" >0.10</text>
<text x="518.20" y="211.70" font-size="8.5" text-anchor="start" fill="#1f9ddc" stroke="#1f9ddc" >0.15</text>
<text x="365.40" y="327.60" font-size="9.3" text-anchor="middle" fill="#222" stroke="#222" >Time(min)</text>
<text x="197.20" y="245.00" font-size="9.2" text-anchor="middle" fill="#222" stroke="#222" transform="rotate(-90 197.2 245)">Relative Humidity(%RH)</text>
<text x="546.00" y="242.30" font-size="9.1" text-anchor="middle" fill="#1f9ddc" stroke="#1f9ddc" transform="rotate(-90 546 242.3)">Voltage(V)</text>
<text x="214.00" y="175.90" font-size="8.8" text-anchor="start" fill="#222" stroke="#222" >(e)</text>
<line x1="424.50" y1="190.00" x2="443.00" y2="190.00" stroke="#111" stroke-width="1.2" />
<circle cx="433.5" cy="190" r="0.9" fill="#111"/>
<line x1="424.50" y1="199.20" x2="443.00" y2="199.20" stroke="#0c86e6" stroke-width="1.4" />
<text x="445.00" y="193.00" font-size="8.2" text-anchor="start" fill="#222" stroke="#222" >Relative Humidity</text>
<text x="445.00" y="202.80" font-size="8.2" text-anchor="start" fill="#222" stroke="#222" >Voltage</text>
<path d="M215.80,293.60 L217.20,293.36 L218.60,293.64 L220.00,293.60 L221.40,226.00 L222.20,231.00 L223.30,240.00 L225.00,255.00 L226.70,267.10 L228.70,275.00 L230.80,279.20 L232.00,280.08 L233.20,281.20 L234.65,281.69 L236.10,282.00 L237.53,283.11 L238.97,283.61 L240.40,285.00 L241.67,285.00 L242.93,286.17 L244.20,286.30 L245.67,286.45 L247.13,286.79 L248.60,287.40 L250.10,288.55 L251.60,288.77 L253.10,289.50 L254.63,290.17 L256.17,290.21 L257.70,290.60 L259.20,291.06 L260.70,290.95 L262.20,291.60 L263.45,291.97 L264.70,292.10 L264.70,291.50 L266.10,228.00 L266.90,234.00 L268.10,250.00 L269.50,263.60 L271.30,266.00 L272.50,268.50 L274.30,274.50 L275.50,279.30 L276.75,281.13 L278.00,282.30 L279.80,283.37 L281.60,284.40 L282.80,284.86 L284.00,285.03 L285.20,284.73 L286.40,285.59 L287.60,285.60 L288.82,286.08 L290.04,286.22 L291.26,286.38 L292.48,287.53 L293.70,287.60 L294.90,287.90 L296.10,288.44 L297.30,288.90 L298.50,289.07 L299.70,289.20 L300.90,289.82 L302.10,289.59 L303.30,290.19 L304.50,290.11 L305.70,290.40 L307.03,290.93 L308.37,291.01 L309.70,290.80 L309.70,290.00 L311.10,214.00 L311.90,226.00 L312.70,245.00 L313.70,260.40 L314.40,263.20 L316.50,264.50 L317.80,271.30 L319.20,278.10 L321.20,280.10 L322.55,280.49 L323.90,281.60 L325.30,282.32 L326.70,283.70 L328.05,283.95 L329.40,285.12 L330.75,285.14 L332.10,285.70 L333.46,286.21 L334.82,286.32 L336.18,286.91 L337.54,287.20 L338.90,287.70 L340.26,287.99 L341.62,288.62 L342.98,289.04 L344.34,289.74 L345.70,289.80 L347.06,290.28 L348.42,290.83 L349.78,291.08 L351.14,291.52 L352.50,291.40 L354.90,291.80" fill="none" stroke="#111" stroke-width="1.35" stroke-linejoin="round" stroke-linecap="round" />
<path d="M376.60,293.50 L377.85,293.65 L379.10,293.20 L380.35,293.82 L381.60,293.50 L383.20,207.50 L384.40,240.00 L385.40,262.00 L386.00,276.70 L386.80,282.00 L388.00,285.00 L390.30,286.20 L392.30,285.80 L392.90,281.50 L393.80,283.20 L395.80,285.40 L397.40,285.62 L399.00,285.00 L401.30,286.30 L402.55,287.06 L403.80,287.10 L405.30,287.81 L406.80,288.40 L408.40,289.39 L410.00,290.00 L411.20,290.07 L412.40,290.95 L413.60,291.04 L414.80,291.30 L416.00,291.31 L417.20,291.31 L418.40,292.22 L419.60,292.54 L420.80,292.30 L422.20,292.13 L423.60,292.97 L425.00,292.82 L426.40,293.10 L426.40,292.50 L428.00,210.00 L429.20,235.00 L430.40,255.00 L431.80,279.50 L433.20,283.50 L434.55,284.24 L435.90,285.60 L437.90,286.30 L438.60,284.20 L440.10,285.06 L441.60,286.30 L443.10,287.04 L444.60,287.30 L446.35,288.19 L448.10,288.40 L449.47,288.46 L450.83,289.44 L452.20,289.80 L453.55,289.99 L454.90,291.20 L456.25,291.45 L457.60,292.20 L459.30,292.34 L461.00,291.80 L462.70,293.23 L464.40,293.80 L465.75,294.15 L467.10,294.95 L468.45,294.68 L469.80,295.20 L471.90,295.40 L471.90,294.60 L473.50,210.00 L474.60,240.00 L475.50,268.60 L476.20,275.40 L478.20,280.80 L480.20,284.20 L481.60,281.50 L482.90,280.50 L484.50,281.77 L486.10,283.80 L487.35,284.29 L488.60,284.18 L489.85,284.73 L491.10,285.40 L492.47,285.78 L493.83,286.43 L495.20,286.80 L496.55,287.29 L497.90,288.40 L499.27,288.82 L500.63,290.40 L502.00,290.90 L503.36,290.99 L504.72,291.83 L506.08,292.04 L507.44,291.83 L508.80,292.20 L510.13,292.63 L511.47,293.15 L512.80,293.60 L514.60,293.80" fill="none" stroke="#111" stroke-width="1.35" stroke-linejoin="round" stroke-linecap="round" />
<path d="M215.80,293.30 L220.20,293.30 L221.80,194.60 L222.28,210.16 L222.77,217.26 L223.25,224.27 L223.74,228.52 L224.22,232.48 L224.71,236.22 L225.19,239.22 L225.67,242.21 L226.16,245.21 L226.64,248.66 L227.13,252.31 L227.61,255.66 L228.10,258.07 L228.58,260.47 L229.06,262.37 L229.55,263.84 L230.03,265.32 L230.52,266.80 L231.00,268.28 L231.49,269.63 L231.97,270.42 L232.45,271.20 L232.94,271.98 L233.42,272.77 L233.91,273.55 L234.39,274.33 L234.88,275.12 L235.36,275.90 L235.84,276.68 L236.33,277.49 L236.81,278.32 L237.30,279.14 L237.78,279.96 L238.27,280.79 L238.75,281.61 L239.23,282.44 L239.72,283.10 L240.20,283.58 L240.69,284.07 L241.17,284.55 L241.66,284.96 L242.14,285.38 L242.62,285.79 L243.11,286.21 L243.59,286.62 L244.08,287.03 L244.56,287.29 L245.04,287.53 L245.53,287.78 L246.01,288.02 L246.50,288.27 L246.98,288.52 L247.47,288.76 L247.95,289.01 L248.43,289.25 L248.92,289.46 L249.40,289.64 L249.89,289.82 L250.37,290.00 L250.86,290.18 L251.34,290.36 L251.82,290.54 L252.31,290.73 L252.79,290.91 L253.28,291.07 L253.76,291.19 L254.25,291.32 L254.73,291.44 L255.21,291.57 L255.70,291.69 L256.18,291.82 L256.67,291.95 L257.15,292.07 L257.64,292.20 L258.12,292.30 L258.60,292.39 L259.09,292.49 L259.57,292.58 L260.06,292.68 L260.54,292.78 L261.03,292.87 L261.51,292.97 L261.99,293.06 L262.48,293.15 L262.96,293.23 L263.45,293.31 L263.93,293.39 L264.42,293.46 L264.90,293.54 L264.90,293.54 L266.50,197.60 L266.98,213.62 L267.46,221.35 L267.95,228.08 L268.43,232.43 L268.91,236.79 L269.39,240.14 L269.88,243.44 L270.36,246.73 L270.84,250.66 L271.32,254.68 L271.80,257.70 L272.29,260.35 L272.77,262.61 L273.25,264.24 L273.73,265.86 L274.22,267.49 L274.70,269.12 L275.18,270.22 L275.66,271.08 L276.14,271.95 L276.63,272.81 L277.11,273.67 L277.59,274.53 L278.07,275.40 L278.56,276.26 L279.04,277.14 L279.52,278.05 L280.00,278.95 L280.48,279.86 L280.97,280.77 L281.45,281.67 L281.93,282.55 L282.41,283.08 L282.90,283.61 L283.38,284.14 L283.86,284.59 L284.34,285.05 L284.82,285.50 L285.31,285.96 L285.79,286.42 L286.27,286.73 L286.75,287.00 L287.24,287.27 L287.72,287.54 L288.20,287.81 L288.68,288.08 L289.16,288.35 L289.65,288.62 L290.13,288.84 L290.61,289.04 L291.09,289.24 L291.58,289.44 L292.06,289.64 L292.54,289.84 L293.02,290.04 L293.50,290.24 L293.99,290.41 L294.47,290.54 L294.95,290.68 L295.43,290.82 L295.92,290.96 L296.40,291.10 L296.88,291.23 L297.36,291.37 L297.84,291.50 L298.33,291.61 L298.81,291.71 L299.29,291.82 L299.77,291.92 L300.26,292.03 L300.74,292.14 L301.22,292.24 L301.70,292.35 L302.18,292.43 L302.67,292.52 L303.15,292.60 L303.63,292.69 L304.11,292.78 L304.60,292.86 L305.08,292.95 L305.56,293.00 L306.04,293.00 L306.52,293.00 L307.01,293.00 L307.49,293.00 L307.97,293.00 L308.45,293.00 L308.94,293.00 L309.42,293.00 L309.90,293.00 L309.90,293.00 L311.50,189.80 L311.98,206.33 L312.47,213.93 L312.95,221.39 L313.43,225.67 L313.92,229.96 L314.40,233.74 L314.88,236.99 L315.37,240.23 L315.85,243.57 L316.33,247.52 L316.82,251.47 L317.30,254.39 L317.78,256.99 L318.27,259.39 L318.75,260.99 L319.23,262.59 L319.72,264.19 L320.20,265.80 L320.68,267.33 L321.17,268.18 L321.65,269.03 L322.13,269.88 L322.62,270.73 L323.10,271.58 L323.58,272.43 L324.07,273.28 L324.55,274.13 L325.03,274.98 L325.52,275.87 L326.00,276.76 L326.48,277.65 L326.97,278.55 L327.45,279.44 L327.93,280.33 L328.42,281.18 L328.90,281.70 L329.38,282.22 L329.87,282.74 L330.35,283.21 L330.83,283.65 L331.32,284.10 L331.80,284.55 L332.28,285.00 L332.77,285.44 L333.25,285.71 L333.73,285.97 L334.22,286.24 L334.70,286.50 L335.18,286.77 L335.67,287.04 L336.15,287.30 L336.63,287.57 L337.12,287.82 L337.60,288.02 L338.08,288.21 L338.57,288.41 L339.05,288.61 L339.53,288.80 L340.02,289.00 L340.50,289.20 L340.98,289.39 L341.47,289.57 L341.95,289.71 L342.43,289.84 L342.92,289.98 L343.40,290.11 L343.88,290.25 L344.37,290.39 L344.85,290.52 L345.33,290.66 L345.82,290.79 L346.30,290.89 L346.78,290.99 L347.27,291.10 L347.75,291.20 L348.23,291.31 L348.72,291.41 L349.20,291.51 L349.68,291.62 L350.17,291.72 L350.65,291.80 L351.13,291.88 L351.62,291.97 L352.10,292.05 L352.58,292.14 L353.07,292.22 L353.55,292.31 L354.03,292.39 L354.52,292.40 L355.00,292.40" fill="none" stroke="#0c86e6" stroke-width="2.6" stroke-linejoin="round" stroke-linecap="round" />
<path d="M376.60,295.60 L381.80,295.60 L383.40,212.40 L383.89,228.04 L384.37,236.52 L384.86,243.00 L385.34,247.71 L385.83,252.42 L386.31,256.33 L386.80,259.19 L387.28,262.05 L387.77,264.91 L388.25,267.77 L388.74,269.73 L389.22,271.29 L389.71,272.85 L390.20,274.41 L390.68,275.97 L391.17,277.41 L391.65,278.08 L392.14,278.75 L392.62,279.42 L393.11,280.09 L393.59,280.76 L394.08,281.43 L394.56,282.09 L395.05,282.74 L395.53,283.20 L396.02,283.65 L396.51,284.11 L396.99,284.57 L397.48,285.02 L397.96,285.48 L398.45,285.94 L398.93,286.39 L399.42,286.85 L399.90,287.31 L400.39,287.63 L400.87,287.88 L401.36,288.12 L401.84,288.36 L402.33,288.60 L402.82,288.84 L403.30,289.08 L403.79,289.32 L404.27,289.56 L404.76,289.80 L405.24,290.04 L405.73,290.28 L406.21,290.53 L406.70,290.77 L407.18,290.99 L407.67,291.12 L408.16,291.25 L408.64,291.38 L409.13,291.52 L409.61,291.65 L410.10,291.78 L410.58,291.91 L411.07,292.04 L411.55,292.17 L412.04,292.31 L412.52,292.44 L413.01,292.57 L413.49,292.70 L413.98,292.83 L414.47,292.94 L414.95,293.04 L415.44,293.14 L415.92,293.23 L416.41,293.33 L416.89,293.43 L417.38,293.53 L417.86,293.62 L418.35,293.72 L418.83,293.82 L419.32,293.92 L419.80,294.01 L420.29,294.11 L420.78,294.21 L421.26,294.30 L421.75,294.36 L422.23,294.43 L422.72,294.50 L423.20,294.56 L423.69,294.63 L424.17,294.70 L424.66,294.76 L425.14,294.83 L425.63,294.90 L426.11,294.96 L426.60,295.03 L426.60,295.03 L428.20,208.80 L428.68,225.20 L429.16,234.06 L429.65,240.90 L430.13,245.83 L430.61,250.75 L431.09,254.90 L431.58,257.89 L432.06,260.88 L432.54,263.88 L433.02,266.87 L433.51,269.00 L433.99,270.63 L434.47,272.26 L434.95,273.89 L435.44,275.53 L435.92,277.12 L436.40,277.82 L436.88,278.52 L437.37,279.22 L437.85,279.92 L438.33,280.62 L438.81,281.32 L439.30,282.02 L439.78,282.72 L440.26,283.21 L440.74,283.68 L441.23,284.16 L441.71,284.64 L442.19,285.11 L442.67,285.59 L443.15,286.07 L443.64,286.55 L444.12,287.02 L444.60,287.50 L445.08,287.89 L445.57,288.14 L446.05,288.40 L446.53,288.65 L447.01,288.90 L447.50,289.15 L447.98,289.40 L448.46,289.66 L448.94,289.91 L449.43,290.16 L449.91,290.41 L450.39,290.66 L450.87,290.91 L451.36,291.17 L451.84,291.42 L452.32,291.57 L452.80,291.71 L453.29,291.85 L453.77,291.98 L454.25,292.12 L454.73,292.26 L455.22,292.40 L455.70,292.54 L456.18,292.67 L456.66,292.81 L457.15,292.95 L457.63,293.09 L458.11,293.23 L458.59,293.36 L459.07,293.49 L459.56,293.59 L460.04,293.69 L460.52,293.79 L461.00,293.90 L461.49,294.00 L461.97,294.10 L462.45,294.20 L462.93,294.30 L463.42,294.41 L463.90,294.51 L464.38,294.61 L464.86,294.71 L465.35,294.81 L465.83,294.91 L466.31,294.99 L466.79,295.06 L467.28,295.13 L467.76,295.20 L468.24,295.27 L468.72,295.34 L469.21,295.41 L469.69,295.48 L470.17,295.55 L470.65,295.62 L471.14,295.69 L471.62,295.76 L472.10,295.80 L472.10,295.80 L473.70,206.60 L474.18,223.20 L474.67,232.18 L475.15,239.10 L475.63,244.08 L476.12,249.07 L476.60,253.26 L477.08,256.29 L477.57,259.32 L478.05,262.35 L478.53,265.38 L479.01,267.52 L479.50,269.17 L479.98,270.82 L480.46,272.48 L480.95,274.13 L481.43,275.72 L481.91,276.43 L482.40,277.14 L482.88,277.85 L483.36,278.56 L483.85,279.27 L484.33,279.98 L484.81,280.68 L485.30,281.39 L485.78,281.88 L486.26,282.36 L486.74,282.85 L487.23,283.33 L487.71,283.81 L488.19,284.30 L488.68,284.78 L489.16,285.26 L489.64,285.75 L490.13,286.23 L490.61,286.61 L491.09,286.87 L491.58,287.12 L492.06,287.38 L492.54,287.64 L493.03,287.89 L493.51,288.15 L493.99,288.40 L494.47,288.66 L494.96,288.91 L495.44,289.17 L495.92,289.42 L496.41,289.68 L496.89,289.93 L497.37,290.19 L497.86,290.33 L498.34,290.47 L498.82,290.61 L499.31,290.75 L499.79,290.89 L500.27,291.03 L500.76,291.17 L501.24,291.31 L501.72,291.45 L502.20,291.59 L502.69,291.73 L503.17,291.87 L503.65,292.01 L504.14,292.15 L504.62,292.27 L505.10,292.37 L505.59,292.48 L506.07,292.58 L506.55,292.68 L507.04,292.79 L507.52,292.89 L508.00,292.99 L508.49,293.10 L508.97,293.20 L509.45,293.30 L509.93,293.41 L510.42,293.51 L510.90,293.61 L511.38,293.72 L511.87,293.79 L512.35,293.86 L512.83,293.93 L513.32,294.00 L513.80,294.07" fill="none" stroke="#0c86e6" stroke-width="2.6" stroke-linejoin="round" stroke-linecap="round" />
</svg></body></html>
